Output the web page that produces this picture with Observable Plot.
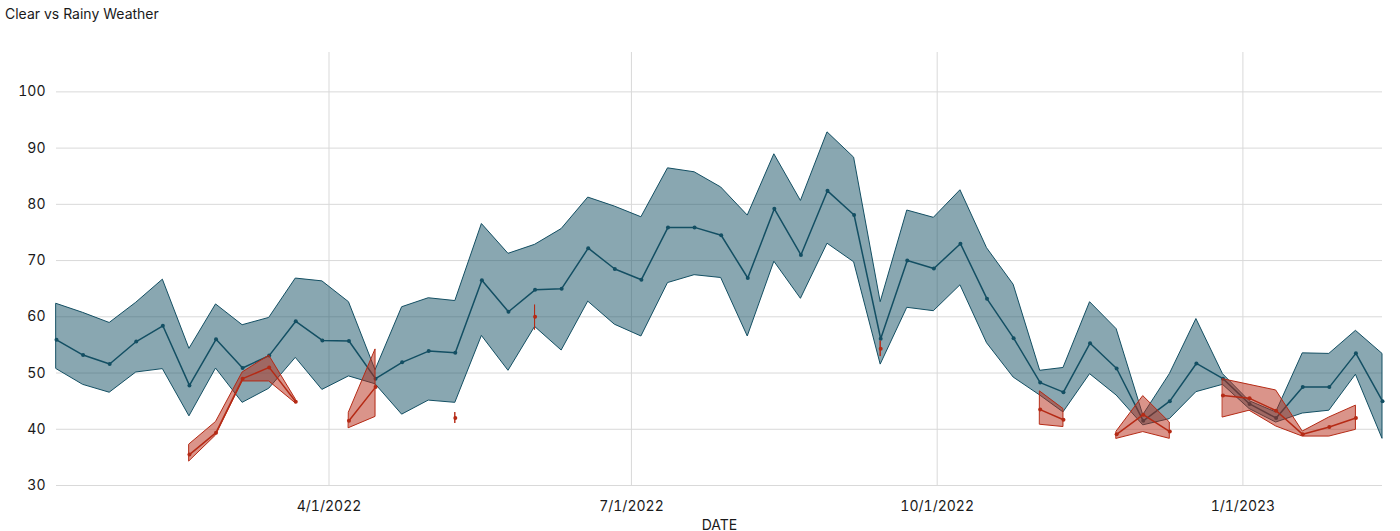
<!DOCTYPE html>
<html><head><meta charset="utf-8">
<script src="https://cdn.jsdelivr.net/npm/d3@7"></script>
<script src="https://cdn.jsdelivr.net/npm/@observablehq/plot@0.6"></script>
<style>
body{margin:0;background:#fff;font-family:Inter,sans-serif;}
#title{font-size:14px;color:#1a1a1a;height:28px;line-height:28px;padding-left:5px;}
</style></head><body>
<div id="title">Clear vs Rainy Weather</div>
<div id="chart"></div>
<script>
const dates = [
 "2022-01-09","2022-01-17","2022-01-25","2022-02-02","2022-02-10","2022-02-18","2022-02-26","2022-03-06","2022-03-14","2022-03-22","2022-03-30","2022-04-07","2022-04-15",
 "2022-04-23","2022-05-01","2022-05-09","2022-05-17","2022-05-25","2022-06-02","2022-06-10","2022-06-18","2022-06-26","2022-07-04","2022-07-12","2022-07-20",
 "2022-07-28","2022-08-05","2022-08-13","2022-08-21","2022-08-29","2022-09-06","2022-09-14","2022-09-22","2022-09-30","2022-10-08","2022-10-16","2022-10-24",
 "2022-11-01","2022-11-08","2022-11-16","2022-11-24","2022-12-02","2022-12-10","2022-12-18","2022-12-26","2023-01-03","2023-01-11","2023-01-19","2023-01-27","2023-02-04","2023-02-12"
];
const clearMean = [
 55.9,53.2,51.6,55.6,58.4,47.8,56.0,50.9,53.1,59.2,55.8,55.7,49.0,
 51.9,53.9,53.6,66.5,60.9,64.8,65.0,72.2,68.5,66.6,75.9,75.9,
 74.5,66.9,79.2,71.0,82.4,78.1,56.1,70.0,68.6,73.0,63.2,56.2,
 48.3,46.6,55.3,50.8,41.5,45.0,51.7,49.0,44.5,42.0,47.5,47.5,53.5,45.0
];
const clearHigh = [
 62.3,60.7,58.9,62.5,66.6,54.3,62.2,58.5,59.8,66.8,66.3,62.6,50.5,
 61.7,63.3,62.8,76.5,71.2,72.8,75.6,81.2,79.6,77.7,86.4,85.7,
 83.0,78.0,88.9,80.6,92.8,88.3,62.6,78.9,77.6,82.5,72.2,65.7,
 50.4,50.9,62.6,57.8,42.5,49.8,59.6,49.8,45.0,43.0,53.5,53.4,57.5,53.4
];
const clearLow = [
 50.7,47.9,46.5,50.1,50.7,42.3,50.8,44.7,47.2,52.7,47.0,49.4,48.0,
 42.6,45.1,44.7,56.6,50.4,58.2,54.0,62.7,58.6,56.5,66.0,67.4,
 66.9,56.5,69.8,63.2,73.0,69.7,51.5,61.6,61.0,65.6,55.3,49.2,
 46.0,43.0,49.8,46.0,40.7,41.8,46.6,47.9,43.6,41.2,42.8,43.3,49.7,38.3
];
const rainyMean = [
 null,null,null,null,null,35.5,39.4,49.0,51.0,44.9,null,41.5,47.5,
 null,null,42.0,null,null,60.0,null,null,null,null,null,null,
 null,null,null,null,null,null,54.3,null,null,null,null,null,
 43.5,41.7,null,39.1,42.6,39.6,null,46.0,45.5,43.3,39.1,40.4,42.0,null
];
const rainyHigh = [
 null,null,null,null,null,37.3,41.3,50.1,53.1,45.3,null,43.0,54.2,
 null,null,42.9,null,null,62.0,null,null,null,null,null,null,
 null,null,null,null,null,null,55.6,null,null,null,null,null,
 46.7,43.6,null,39.6,45.9,41.2,null,48.9,47.9,46.9,39.6,42.1,44.2,null
];
const rainyLow = [
 null,null,null,null,null,34.3,38.9,48.5,48.5,44.6,null,40.2,42.2,
 null,null,41.1,null,null,57.7,null,null,null,null,null,null,
 null,null,null,null,null,null,53.0,null,null,null,null,null,
 40.8,40.4,null,38.3,39.5,38.3,null,42.1,43.3,40.5,38.7,38.7,39.9,null
];
const xTickDates = ["2022-04-01","2022-07-01","2022-10-01","2023-01-01"];
const yTicks = [30,40,50,60,70,80,90,100];

const blue = "#134f63";
const red = "#b52a15";

const clearRows = dates.map((d,i)=>({date:new Date(d), mean:clearMean[i], lo:clearLow[i], hi:clearHigh[i]}));
const rainyRows = dates.map((d,i)=>({date:new Date(d), mean:rainyMean[i], lo:rainyLow[i], hi:rainyHigh[i]}));
const xTicks = xTickDates.map(d=>new Date(d));

const chart = Plot.plot({
  width: 1400,
  height: 503,
  marginTop: 24,
  marginBottom: 46,
  marginLeft: 56,
  marginRight: 18,
  style: {fontFamily: "Inter, sans-serif", fontSize: "14px", color: "#1a1a1a", background: "#fff"},
  x: {type: "utc", domain: [new Date(dates[0]), new Date(dates[dates.length-1])]},
  y: {domain: [30, 107]},
  marks: [
    Plot.gridY(yTicks, {stroke: "#d9d9d9", strokeOpacity: 1}),
    Plot.gridX(xTicks, {stroke: "#d9d9d9", strokeOpacity: 1}),
    Plot.areaY(clearRows, {x: "date", y1: "lo", y2: "hi", fill: blue, fillOpacity: 0.5, stroke: blue, strokeWidth: 1}),
    Plot.line(clearRows, {x: "date", y: "mean", stroke: blue, strokeWidth: 1.5}),
    Plot.dot(clearRows, {x: "date", y: "mean", r: 2, fill: blue}),
    Plot.areaY(rainyRows, {x: "date", y1: "lo", y2: "hi", fill: red, fillOpacity: 0.5, stroke: red, strokeWidth: 1}),
    Plot.line(rainyRows, {x: "date", y: "mean", stroke: red, strokeWidth: 1.5}),
    Plot.dot(rainyRows, {x: "date", y: "mean", r: 2, fill: red}),
    Plot.axisY(yTicks, {tickSize: 0, tickPadding: 11, label: null}),
    Plot.axisX(xTicks, {tickSize: 0, tickPadding: 16, tickFormat: d3.utcFormat("%-m/%-d/%Y"), label: "DATE", labelAnchor: "center", labelArrow: false, labelOffset: 44})
  ]
});
document.getElementById("chart").appendChild(chart);
</script>
</body></html>
